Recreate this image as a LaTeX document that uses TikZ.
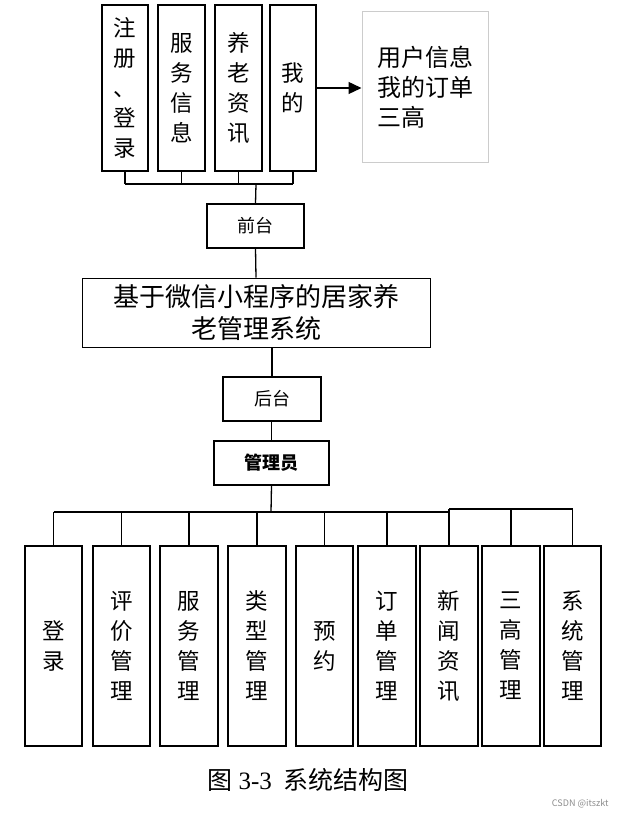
\documentclass[tikz,border=0pt]{standalone}
\usepackage{fontspec}
\setmainfont{Liberation Serif}
\newfontfamily\cjk{Noto Sans CJK SC}
\usetikzlibrary{arrows.meta}
\begin{document}
\begin{tikzpicture}[x=1pt,y=-1pt,
  bx/.style={draw,line width=1.4pt,inner sep=0pt,align=center},
  vt/.style={font=\cjk\fontsize{22.5}{30}\selectfont},
  ln/.style={line width=1.3pt}]
\useasboundingbox (0,0) rectangle (623,818);
% top row
\node[bx,vt,minimum width=46,minimum height=166] (a1) at (125,88) {注\\册\\、\\登\\录};
\node[bx,vt,minimum width=47,minimum height=166] (a2) at (181.5,88) {服\\务\\信\\息};
\node[bx,vt,minimum width=47,minimum height=166] (a3) at (238.5,88) {养\\老\\资\\讯};
\node[bx,vt,minimum width=46,minimum height=166] (a4) at (293,88) {我\\的};
\node[draw=black!20,line width=1pt,minimum width=126,minimum height=151,inner sep=0pt,
  font=\cjk\fontsize{24}{30}\selectfont,align=left] (info) at (425,87.5) {用户信息\\我的订单\\三高};
\draw[ln,-{Triangle[length=13pt,width=12pt]}] (a4.east |- 0,88) -- (info.west |- 0,88);
\node[bx,minimum width=97,minimum height=44,font=\cjk\fontsize{18}{20}\selectfont] (qt) at (255.5,226) {前台};
\coordinate (b1) at (256,184);
\foreach \n in {a1,a2,a3,a4} \draw[ln] (\n.south) -- (\n.south |- b1);
\draw[ln] (a1.south |- b1) -- (a4.south |- b1);
\draw[ln] (b1) -- (qt.north);
\node[draw,line width=0.8pt,minimum width=348,minimum height=69,inner sep=0pt,align=center,
  font=\cjk\fontsize{26}{32}\selectfont] (main) at (256,312.5) {基于微信小程序的居家养\\老管理系统};
\draw[ln] (qt.south) -- (main.north);
\node[bx,minimum width=98,minimum height=44,font=\cjk\fontsize{18}{20}\selectfont] (ht) at (272,399) {后台};
\draw[ln] (ht.north |- main.south) -- (ht.north);
\node[bx,minimum width=115,minimum height=44,font=\cjk\bfseries\fontsize{18}{20}\selectfont] (gly) at (271.5,463) {管理员};
\draw[ln] (ht.south) -- (gly.north |- ht.south) -- (gly.north);
% bottom row
\foreach \n/\x/\w/\t in {c1/53.5/57/{登\\录},c2/121.5/57/{评\\价\\管\\理},c3/189/58/{服\\务\\管\\理},
  c4/257/58/{类\\型\\管\\理},c5/324.5/57/{预\\约},c6/387/58/{订\\单\\管\\理},
  c7/449/58/{新\\闻\\资\\讯},c8/511/58/{三\\高\\管\\理},c9/572.5/57/{系\\统\\管\\理}}
  \node[bx,vt,minimum width=\w,minimum height=200] (\n) at (\x,646) {\t};
\coordinate (b2) at (271,512);
\coordinate (b3) at (449,509);
\draw[ln] (gly.south) -- (b2);
\draw[ln] (c1.north |- b2) -- (c7.north |- b2);
\draw[ln] (c7.north |- b3) -- (c9.north |- b3);
\foreach \n in {c1,c2,c3,c4,c5,c6} \draw[ln] (\n.north |- b2) -- (\n.north);
\foreach \n in {c7,c8,c9} \draw[ln] (\n.north |- b3) -- (\n.north);
\node[font=\cjk\fontsize{25}{28}\selectfont] (cap) at (308,780) {图 {\rmfamily 3-3}\ \ 系统结构图};
\node[font=\cjk\fontsize{9}{10}\selectfont,text=black!45,anchor=east] (wm) at (612,804) {CSDN @itszkt};
\end{tikzpicture}
\end{document}
